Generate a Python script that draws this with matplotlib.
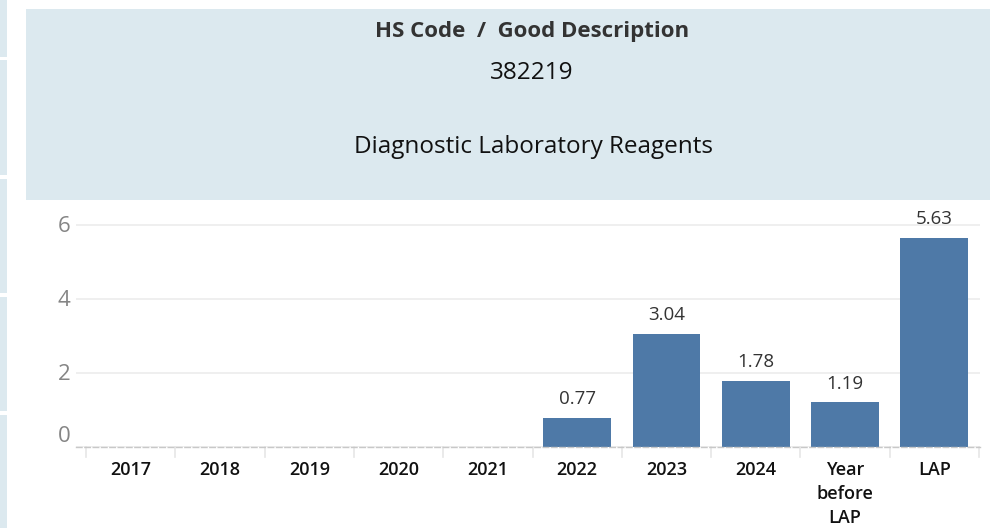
import matplotlib.pyplot as plt
from matplotlib.patches import Rectangle

# data
categories = ['2017', '2018', '2019', '2020', '2021', '2022', '2023', '2024',
              'Year\nbefore\nLAP', 'LAP']
values = [0, 0, 0, 0, 0, 0.77, 3.04, 1.78, 1.19, 5.63]
value_labels = ['', '', '', '', '', '0.77', '3.04', '1.78', '1.19', '5.63']
y_ticks = [0, 2, 4, 6]

title_line = 'HS Code  /  Good Description'
hs_code = '382219'
description = 'Diagnostic Laboratory Reagents'

W, H = 990, 528
BAR = '#4e79a7'
PANEL = '#dce9ef'

plt.rcParams['font.family'] = ['Open Sans', 'DejaVu Sans']


def fx(x):
    return x / W


def fy(y):
    return 1 - y / H


fig = plt.figure(figsize=(W / 100, H / 100), dpi=100)

# header panel and the strips at the left edge
fig.add_artist(Rectangle((fx(26), fy(200)), fx(964), 191 / H, transform=fig.transFigure,
                         facecolor=PANEL, edgecolor='none', zorder=0))
for top, bot in [(0, 57), (60, 175), (179, 293), (297, 411), (415, 528)]:
    fig.add_artist(Rectangle((0, fy(bot)), fx(7), (bot - top) / H, transform=fig.transFigure,
                             facecolor=PANEL, edgecolor='none', zorder=0))

fig.text(fx(532), fy(32), title_line, ha='center', va='center',
         fontsize=16, fontweight='bold', color='#333333')
fig.text(fx(532), fy(73), hs_code, ha='center', va='center', fontsize=17.5, color='#111111')
fig.text(fx(533), fy(147), description, ha='center', va='center', fontsize=17.5, color='#111111')

# chart
ax = fig.add_axes([fx(76), fy(446.5), fx(904), 236.5 / H])
x = list(range(len(categories)))
ax.bar(x, values, width=0.76, color=BAR, zorder=2)
for xi, v, lab in zip(x, values, value_labels):
    if lab:
        ax.annotate(lab, (xi, v), xytext=(0, 7), textcoords='offset points',
                    ha='center', va='bottom', fontsize=13.5, color='#333333')

ax.set_xlim(-0.5 - 10 / 89.3, 9.5 + 1 / 89.3)
ax.set_ylim(0, 236.5 / 37)
ax.set_yticks(y_ticks)
ax.set_yticklabels([str(t) for t in y_ticks], fontsize=16, color='#858585')
ax.get_yticklabels()[0].set_va('bottom')
ax.tick_params(axis='y', length=0, pad=4)
ax.grid(axis='y', color='#ececec', linewidth=1.2, zorder=0)

ax.set_xticks(x)
ax.set_xticklabels(categories, fontsize=13, fontweight='semibold', color='#111111',
                   linespacing=1.42)
ax.tick_params(axis='x', length=0, pad=10.5)

for s in ['top', 'right', 'left']:
    ax.spines[s].set_visible(False)
ax.spines['bottom'].set_linestyle((0, (4, 2)))
ax.spines['bottom'].set_color('#c8c8c8')
ax.spines['bottom'].set_linewidth(1)

# column separators under the axis
for b in [i - 0.5 for i in range(len(categories) + 1)]:
    ax.plot([b, b], [0, -0.28], color='#e6e6e6', linewidth=1.2, clip_on=False)

fig.savefig('out.png', dpi=100)
